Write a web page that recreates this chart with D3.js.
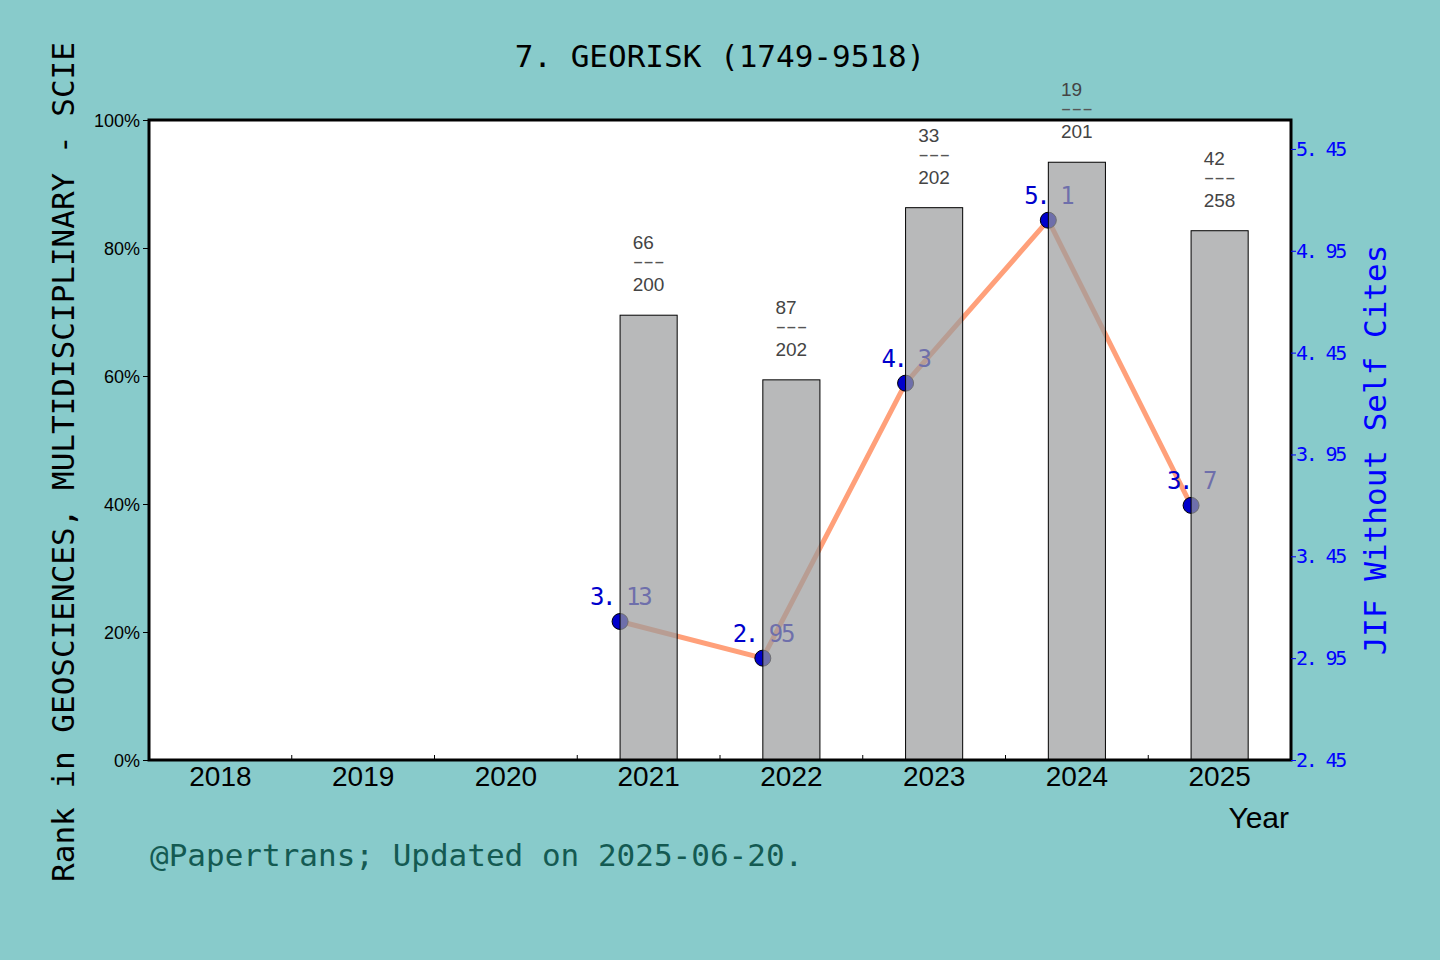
<!DOCTYPE html>
<meta charset="utf-8">
<script src="https://d3js.org/d3.v7.min.js"></script>
<style>
  body { margin: 0; background: #88cbcb; }
</style>
<body>
  <div id="my_dataviz"></div>
  <script>

    // Chart data
    var years = ["2018", "2019", "2020", "2021", "2022", "2023", "2024", "2025"];
    var rankYears = ["2021", "2022", "2023", "2024", "2025"];
    var rankPct = [0.695, 0.594, 0.863, 0.934, 0.827];
    var rankNum = [66, 87, 33, 19, 42];
    var rankDen = [200, 202, 202, 201, 258];
    var jif = [3.13, 2.95, 4.3, 5.1, 3.7];
    var jifTicks = [2.45, 2.95, 3.45, 3.95, 4.45, 4.95, 5.45];

    var W = 1440, H = 960;
    var margin = {top: 120, right: 149, bottom: 200, left: 149},
        width = W - margin.left - margin.right,
        height = H - margin.top - margin.bottom;

    var mono = "'DejaVu Sans Mono', monospace";
    var sans = "'Liberation Sans', Arial, sans-serif";

    var root = d3.select("#my_dataviz")
      .append("svg")
        .attr("width", W)
        .attr("height", H);

    root.append("rect")
      .attr("width", W).attr("height", H)
      .attr("fill", "#88cbcb");

    var svg = root.append("g")
      .attr("transform", "translate(" + margin.left + "," + margin.top + ")");

    // plot background
    svg.append("rect")
      .attr("width", width).attr("height", height)
      .attr("fill", "white");

    // Scales
    var x = d3.scaleBand().domain(years).range([0, width]);
    var bw = x.bandwidth() * 0.4;
    var y = d3.scaleLinear().domain([0, 1]).range([height, 0]);
    var y2 = d3.scaleLinear().domain([2.45, 5.592]).range([height, 0]);

    var data = rankYears.map(function(yr, i) {
      return {year: yr, pct: rankPct[i], num: rankNum[i], den: rankDen[i], jif: jif[i]};
    });

    function cx(d) { return x(d.year) + x.bandwidth() / 2; }
    function px(d) { return cx(d) - bw / 2; }

    // JIF line (drawn under the bars)
    svg.append("path")
      .datum(data)
      .attr("fill", "none")
      .attr("stroke", "#ffa07a")
      .attr("stroke-width", 5)
      .attr("d", d3.line()
        .x(px)
        .y(function(d) { return y2(d.jif); })
      );

    svg.selectAll("circle.jif")
      .data(data)
      .enter()
      .append("circle")
        .attr("class", "jif")
        .attr("cx", px)
        .attr("cy", function(d) { return y2(d.jif); })
        .attr("r", 8)
        .attr("fill", "#0000cc")
        .attr("stroke", "black")
        .attr("stroke-width", 1);

    svg.selectAll("text.jif")
      .data(data)
      .enter()
      .append("text")
        .attr("class", "jif")
        .attr("x", px)
        .attr("y", function(d) { return y2(d.jif) - 16; })
        .attr("text-anchor", "middle")
        .style("font-family", mono)
        .style("font-size", "24px")
        .style("letter-spacing", "-2.4px")
        .attr("fill", "#0000cc")
        .text(function(d) { return d3.format(".2~f")(d.jif).replace(".", ". "); });

    // Bars (semi-transparent, on top of the line)
    svg.selectAll("rect.bar")
      .data(data)
      .enter()
      .append("rect")
        .attr("class", "bar")
        .attr("x", function(d) { return cx(d) - bw / 2; })
        .attr("y", function(d) { return y(d.pct); })
        .attr("width", bw)
        .attr("height", function(d) { return height - y(d.pct); })
        .attr("fill", "rgb(155,156,158)")
        .attr("fill-opacity", 0.71)
        .attr("stroke", "black")
        .attr("stroke-width", 1);

    // Rank labels
    var lab = svg.selectAll("g.rank")
      .data(data)
      .enter()
      .append("g")
        .attr("class", "rank")
        .attr("transform", function(d) { return "translate(" + cx(d) + "," + y(d.pct) + ")"; })
        .style("font-family", sans)
        .style("font-size", "19px")
        .attr("fill", "#444");
    lab.append("text").attr("x", -16).attr("y", -66).text(function(d) { return d.num; });
    lab.append("text").attr("x", -16).attr("y", -47)
      .attr("textLength", 32).attr("lengthAdjust", "spacingAndGlyphs")
      .attr("fill", "#555")
      .text("---");
    lab.append("text").attr("x", -16).attr("y", -24).text(function(d) { return d.den; });

    // Frame
    svg.append("rect")
      .attr("width", width).attr("height", height)
      .attr("fill", "none")
      .attr("stroke", "black")
      .attr("stroke-width", 3);

    // Left axis
    var yAxis = svg.append("g")
      .call(d3.axisLeft(y).ticks(5).tickFormat(d3.format(".0%")).tickSize(6).tickSizeOuter(0));
    yAxis.select(".domain").remove();
    yAxis.selectAll("text")
      .style("font-family", sans)
      .style("font-size", "18px")
      .attr("fill", "black")
      .attr("dy", "0.35em");

    // Right axis
    var y2Axis = svg.append("g")
      .attr("transform", "translate(" + width + ",0)")
      .call(d3.axisRight(y2).tickValues(jifTicks).tickFormat(function(v) { return d3.format(".2f")(v).replace(".", ". "); }).tickSize(5));
    y2Axis.select(".domain").remove();
    y2Axis.selectAll("line").attr("stroke", "#0000ff");
    y2Axis.selectAll("text")
      .attr("x", 5)
      .style("font-family", mono)
      .style("font-size", "20px")
      .style("letter-spacing", "-2.2px")
      .attr("fill", "#0000ff");

    // Bottom axis
    var xAxis = svg.append("g")
      .attr("transform", "translate(0," + height + ")")
      .call(d3.axisBottom(x).tickSize(0));
    xAxis.select(".domain").remove();
    xAxis.selectAll("text")
      .attr("dy", "0.71em")
      .attr("y", 6)
      .style("font-family", sans)
      .style("font-size", "28px")
      .attr("fill", "black");

    // small separators between years
    svg.selectAll("line.sep")
      .data(years.slice(1))
      .enter()
      .append("line")
        .attr("class", "sep")
        .attr("x1", function(d) { return x(d); })
        .attr("x2", function(d) { return x(d); })
        .attr("y1", height)
        .attr("y2", height - 5)
        .attr("stroke", "black");

    // Titles
    root.append("text")
      .attr("x", 720).attr("y", 67)
      .attr("text-anchor", "middle")
      .style("font-family", mono)
      .style("font-size", "31px")
      .attr("fill", "black")
      .text("7. GEORISK (1749-9518)");

    root.append("text")
      .attr("transform", "translate(74,462) rotate(-90)")
      .attr("text-anchor", "middle")
      .style("font-family", mono)
      .style("font-size", "31px")
      .attr("fill", "black")
      .text("Rank in GEOSCIENCES, MULTIDISCIPLINARY - SCIE");

    root.append("text")
      .attr("transform", "translate(1386,450) rotate(-90)")
      .attr("text-anchor", "middle")
      .style("font-family", mono)
      .style("font-size", "31px")
      .attr("fill", "#0000ff")
      .text("JIF Without Self Cites");

    root.append("text")
      .attr("x", 1289).attr("y", 828)
      .attr("text-anchor", "end")
      .style("font-family", sans)
      .style("font-size", "30px")
      .attr("fill", "black")
      .text("Year");

    root.append("text")
      .attr("x", 150).attr("y", 866)
      .style("font-family", mono)
      .style("font-size", "31px")
      .attr("fill", "#145a52")
      .text("@Papertrans; Updated on 2025-06-20.");

  </script>
</body>
